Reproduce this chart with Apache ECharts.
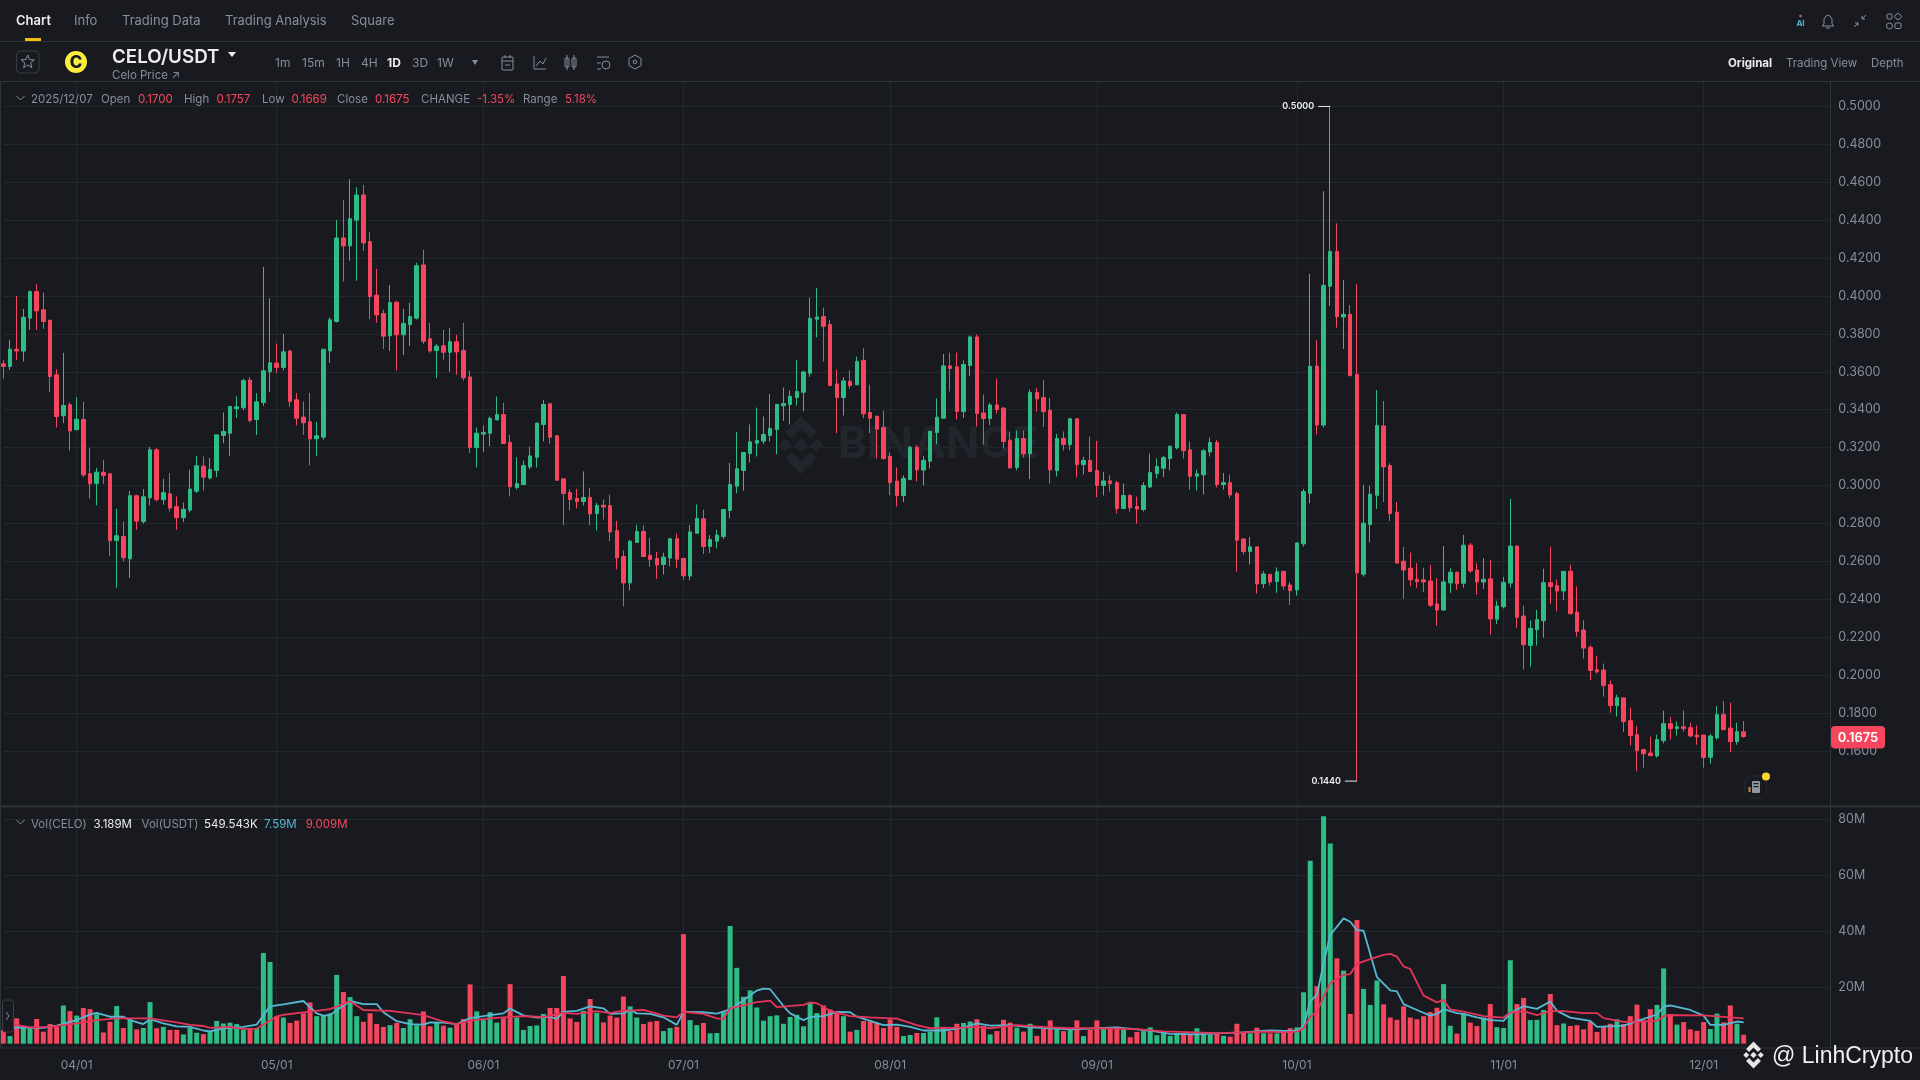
<!DOCTYPE html>
<html>
<head>
<meta charset="utf-8">
<title>CELO/USDT</title>
<style>html,body{margin:0;padding:0;background:#181a20}#chart{width:1920px;height:1080px}</style>
<script src="https://cdn.jsdelivr.net/npm/echarts@6/dist/echarts.min.js"></script>
</head>
<body>
<div id="chart"></div>
<script>
const opens = [
.3642,.3628,.3719,.3709,.3883,.4023,.3927,.3872,.3584,.3368,
.3426,.3294,.3348,.3062,.3011,.3069,.3062,.2710,.2731,.2613,
.2946,.2810,.2935,.3188,.2925,.2956,.2888,.2830,.2870,.2970,
.3102,.3039,.3079,.3264,.3276,.3405,.3410,.3556,.3348,.3438,
.3600,.3645,.3623,.3709,.3452,.3361,.3336,.3246,.3255,.3710,
.3865,.4306,.4264,.4400,.4533,.4287,.4004,.3907,.3790,.3967,
.3795,.3848,.3883,.4164,.3774,.3712,.3737,.3703,.3758,.3712,
.3573,.3201,.3271,.3276,.3346,.3374,.3228,.2989,.3005,.3098,
.3149,.3322,.3431,.3262,.3035,.2963,.2931,.2915,.2937,.2852,
.2896,.2894,.2761,.2625,.2486,.2699,.2757,.2632,.2615,.2583,
.2617,.2719,.2615,.2522,.2748,.2824,.2678,.2706,.2731,.2868,
.2996,.3079,.3169,.3223,.3234,.3264,.3295,.3420,.3427,.3464,
.3492,.3592,.3877,.3891,.3849,.3536,.3464,.3550,.3531,.3659,
.3385,.3365,.3306,.3153,.3023,.2947,.3031,.3202,.3081,.3128,
.3279,.3355,.3631,.3626,.3390,.3633,.3784,.3383,.3353,.3425,
.3408,.3239,.3095,.3248,.3167,.3491,.3464,.3397,.3079,.3248,
.3216,.3352,.3110,.3132,.3079,.3000,.3024,.3015,.2878,.2947,
.2889,.2873,.2992,.3063,.3091,.3142,.3198,.3374,.3188,.3049,
.3056,.3177,.3227,.3005,.3015,.2957,.2718,.2651,.2676,.2482,
.2531,.2493,.2547,.2475,.2449,.2692,.2959,.3630,.3319,.4051,
.4235,.3889,.3903,.3586,.2532,.2794,.2948,.3314,.3105,.2859,
.2600,.2563,.2505,.2502,.2496,.2375,.2343,.2486,.2542,.2484,
.2685,.2554,.2491,.2507,.2294,.2360,.2485,.2680,.2311,.2156,
.2239,.2286,.2487,.2471,.2443,.2548,.2332,.2237,.2146,.2028,
.2026,.1949,.1838,.1879,.1759,.1685,.1606,.1588,.1573,.1653,
.1743,.1717,.1727,.1722,.1683,.1683,.1566,.1668,.1791,.1720,
.1648,.1700];
const closes = [
.3628,.3719,.3710,.3888,.4023,.3921,.3865,.3575,.3364,.3422,
.3288,.3350,.3056,.3009,.3070,.3053,.2708,.2735,.2619,.2946,
.2812,.2940,.3188,.2925,.2962,.2881,.2830,.2875,.2981,.3104,
.3044,.3085,.3267,.3285,.3417,.3415,.3554,.3343,.3441,.3605,
.3647,.3623,.3705,.3443,.3355,.3331,.3246,.3262,.3719,.3874,
.4306,.4264,.4407,.4533,.4280,.3997,.3900,.3788,.3965,.3795,
.3855,.3891,.4160,.3761,.3710,.3735,.3703,.3758,.3705,.3568,
.3201,.3276,.3279,.3355,.3374,.3221,.2993,.3010,.3105,.3156,
.3329,.3427,.3255,.3028,.2958,.2926,.2915,.2937,.2850,.2894,
.2886,.2755,.2618,.2486,.2706,.2757,.2625,.2610,.2580,.2622,
.2719,.2611,.2523,.2755,.2826,.2678,.2715,.2738,.2873,.3005,
.3088,.3174,.3230,.3237,.3269,.3300,.3427,.3432,.3471,.3496,
.3599,.3881,.3889,.3840,.3527,.3464,.3552,.3527,.3654,.3378,
.3355,.3297,.3142,.3016,.2947,.3037,.3202,.3082,.3133,.3286,
.3360,.3631,.3617,.3390,.3638,.3784,.3380,.3353,.3425,.3401,
.3232,.3093,.3248,.3167,.3491,.3457,.3390,.3082,.3248,.3216,
.3352,.3110,.3132,.3073,.3000,.3024,.3010,.2878,.2947,.2882,
.2876,.3000,.3068,.3100,.3147,.3207,.3374,.3183,.3049,.3061,
.3183,.3227,.3005,.3015,.2950,.2711,.2651,.2676,.2480,.2533,
.2491,.2545,.2470,.2445,.2697,.2968,.3629,.3319,.4056,.4235,
.3891,.3903,.3579,.2539,.2801,.2954,.3317,.3098,.2852,.2591,
.2554,.2502,.2493,.2491,.2368,.2343,.2491,.2542,.2481,.2685,
.2549,.2491,.2505,.2296,.2364,.2489,.2680,.2304,.2160,.2246,
.2292,.2487,.2467,.2443,.2547,.2323,.2230,.2142,.2024,.2017,
.1944,.1838,.1880,.1754,.1680,.1601,.1585,.1574,.1659,.1743,
.1717,.1727,.1717,.1678,.1673,.1564,.1678,.1791,.1711,.1648,
.1701,.1675];
const highs = [
.3663,.3768,.4000,.3932,.4029,.4062,.4018,.3872,.3614,.3700,
.3438,.3466,.3441,.3199,.3093,.3136,.3062,.2877,.2810,.2972,
.2951,.2981,.3204,.3197,.3035,.3065,.2942,.2910,.3083,.3157,
.3153,.3144,.3267,.3385,.3417,.3471,.3563,.3572,.3487,.4153,
.3988,.3749,.3800,.3716,.3487,.3443,.3489,.3336,.3719,.3886,
.4401,.4505,.4616,.4574,.4586,.4336,.4143,.3927,.4058,.3974,
.3932,.3964,.4175,.4243,.3858,.3747,.3821,.3830,.3795,.3858,
.3605,.3306,.3316,.3364,.3469,.3436,.3267,.3149,.3132,.3205,
.3330,.3452,.3436,.3262,.3035,.2979,.2982,.3074,.2988,.2908,
.2926,.2951,.2813,.2657,.2713,.2792,.2789,.2724,.2650,.2645,
.2722,.2747,.2615,.2792,.2900,.2873,.2738,.2766,.2873,.3119,
.3283,.3177,.3322,.3411,.3364,.3483,.3431,.3517,.3501,.3661,
.3606,.3991,.4042,.3939,.3874,.3610,.3571,.3608,.3680,.3724,
.3532,.3369,.3394,.3174,.3095,.3053,.3209,.3213,.3156,.3286,
.3459,.3694,.3701,.3701,.3660,.3792,.3797,.3480,.3436,.3564,
.3415,.3285,.3290,.3290,.3506,.3515,.3557,.3462,.3272,.3285,
.3355,.3355,.3151,.3258,.3235,.3072,.3054,.3024,.3010,.2954,
.2941,.3017,.3168,.3142,.3156,.3211,.3385,.3374,.3232,.3084,
.3193,.3253,.3241,.3066,.3058,.2966,.2718,.2728,.2676,.2549,
.2531,.2567,.2547,.2491,.2697,.2982,.4116,.3767,.4553,.5000,
.4383,.4084,.3952,.4063,.3003,.2998,.3504,.3446,.3117,.2913,
.2676,.2646,.2590,.2565,.2581,.2512,.2681,.2563,.2546,.2739,
.2697,.2590,.2616,.2606,.2391,.2517,.2930,.2684,.2365,.2288,
.2344,.2561,.2677,.2504,.2547,.2582,.2467,.2288,.2156,.2102,
.2060,.1970,.1896,.1879,.1828,.1731,.1611,.1675,.1685,.1812,
.1778,.1754,.1813,.1748,.1733,.1683,.1689,.1835,.1863,.1854,
.1748,.1757];
const lows = [
.3563,.3610,.3663,.3654,.3821,.3821,.3826,.3492,.3306,.3329,
.3183,.3294,.3044,.2930,.2895,.3009,.2629,.2460,.2599,.2511,
.2766,.2798,.2895,.2916,.2898,.2863,.2766,.2807,.2858,.2960,
.2972,.3032,.3044,.3223,.3157,.3355,.3397,.3332,.3267,.3420,
.3492,.3594,.3607,.3415,.3317,.3267,.3106,.3157,.3241,.3647,
.3860,.4076,.4185,.4080,.4238,.3877,.3858,.3721,.3710,.3607,
.3688,.3735,.3876,.3747,.3700,.3566,.3663,.3600,.3584,.3552,
.3172,.3095,.3177,.3207,.3344,.3220,.2942,.2979,.3005,.3086,
.3095,.3232,.3221,.3023,.2791,.2868,.2879,.2894,.2791,.2762,
.2820,.2706,.2557,.2362,.2446,.2699,.2622,.2571,.2506,.2530,
.2573,.2564,.2502,.2499,.2748,.2638,.2643,.2668,.2717,.2826,
.2959,.2973,.3121,.3153,.3218,.3232,.3165,.3341,.3322,.3422,
.3392,.3573,.3782,.3654,.3527,.3276,.3369,.3511,.3531,.3355,
.3276,.3142,.3135,.2949,.2889,.2912,.3031,.3021,.3000,.3089,
.3218,.3355,.3496,.3348,.3357,.3577,.3311,.3216,.3318,.3380,
.3195,.3088,.3080,.3147,.3033,.3390,.3309,.3010,.3047,.3184,
.3186,.3042,.3058,.3073,.2938,.2947,.2968,.2852,.2878,.2862,
.2799,.2862,.2987,.3036,.3044,.3079,.3190,.3142,.2978,.2973,
.2952,.3153,.2989,.2978,.2934,.2545,.2635,.2582,.2429,.2459,
.2472,.2433,.2450,.2369,.2419,.2677,.2906,.3268,.3307,.3947,
.3833,.3720,.3579,.1440,.2519,.2699,.2876,.2913,.2813,.2586,
.2402,.2470,.2460,.2438,.2359,.2259,.2338,.2433,.2449,.2460,
.2540,.2423,.2454,.2211,.2269,.2351,.2462,.2249,.2028,.2044,
.2155,.2197,.2376,.2336,.2394,.2323,.2202,.2086,.1972,.2007,
.1886,.1801,.1780,.1699,.1627,.1492,.1511,.1573,.1564,.1639,
.1659,.1680,.1701,.1673,.1632,.1511,.1532,.1659,.1711,.1594,
.1632,.1669];
const volumes = [
4.9,2.7,9.0,6.0,5.6,8.8,4.3,7.0,6.0,13.6,
11.6,10.0,12.7,12.3,10.5,4.0,7.8,13.4,5.6,8.7,
5.1,5.6,14.8,5.5,6.0,4.9,4.9,3.3,5.6,3.9,
3.4,4.6,8.1,7.2,7.5,7.0,5.1,5.5,5.6,32.3,
29.1,9.8,9.3,7.4,8.2,10.8,14.7,9.8,10.2,10.8,
24.5,18.4,16.6,9.8,7.8,10.8,7.0,6.0,6.6,7.4,
5.6,8.7,6.6,11.5,6.2,7.7,6.4,5.7,7.0,8.8,
21.1,11.5,8.4,11.2,7.5,9.1,21.2,9.3,4.9,6.3,
6.5,10.6,12.7,12.7,24.1,9.0,7.7,11.7,15.9,11.0,
7.6,10.0,9.3,16.8,13.3,9.3,7.0,7.8,8.1,4.5,
5.6,6.0,39.0,8.4,6.6,7.4,3.7,3.8,11.2,41.9,
27.0,16.7,19.0,12.9,8.2,9.8,10.1,7.1,9.5,10.3,
6.2,14.7,10.9,13.6,12.2,11.2,9.8,4.3,4.9,8.1,
7.9,7.4,5.6,8.7,6.0,2.7,3.1,3.8,3.8,4.3,
9.4,6.0,4.5,7.1,7.4,7.9,8.7,6.3,3.3,4.5,
8.5,7.5,5.7,4.3,7.1,2.8,5.3,8.3,5.3,4.5,
5.3,8.3,2.7,4.9,8.3,5.3,5.3,6.0,5.1,2.3,
4.2,4.5,5.8,3.0,4.2,2.8,3.8,3.7,3.3,5.5,
3.7,3.3,3.7,2.8,2.5,7.1,4.3,3.7,5.7,3.7,
3.7,3.7,4.3,5.5,5.8,18.3,65.1,20.5,81.0,71.3,
30.4,26.0,10.6,44.0,19.5,13.8,22.5,14.0,9.3,8.5,
13.3,9.3,8.7,9.8,11.3,12.8,21.2,6.4,3.6,10.8,
7.5,6.3,9.3,14.1,5.9,5.6,29.7,14.1,16.3,8.4,
8.5,12.0,17.7,6.6,7.2,6.3,6.6,5.1,7.8,4.2,
6.0,7.1,8.7,7.0,9.8,13.9,8.4,12.3,13.8,26.8,
10.6,6.8,7.7,5.1,4.6,7.7,5.2,10.7,7.6,13.6,
7.1,3.189];
const maCyanIdx = [0,2,6,8,11,13,14,16,18,19,21,22,24,26,28,30,31,33,36,38,40,42,45,47,48,49,52,54,56,57,59,61,63,64,66,68,70,72,75,76,78,80,82,83,84,86,88,90,91,93,94,95,
97,99,101,102,105,107,109,111,113,114,115,117,118,120,121,123,125,127,128,130,132,134,136,138,141,144,146,148,151,154,157,160,164,167,170,173,175,179,182,186,190,192,
194,195,196,197,198,199,201,202,203,204,206,208,209,210,212,214,215,216,218,219,221,223,225,226,228,230,232,233,235,238,239,243,245,248,249,250,253,255,256,258,260,261];
const maCyanVal = [5.4,5.8,5.6,6.4,8.4,10.4,11.0,9.6,9.6,8.4,7.0,8.7,7.2,6.2,6.0,4.7,4.4,5.5,6.0,6.8,13.3,14.0,15.2,10.8,10.0,10.2,15.2,14.1,14.1,11.2,8.0,7.0,6.8,7.6,7.5,7.0,9.1,9.8,10.8,12.5,10.1,9.3,9.6,8.8,11.3,11.7,13.3,12.6,10.6,10.8,12.0,10.8,
10.6,9.4,6.7,11.3,11.2,10.7,12.2,15.5,18.9,19.6,19.4,13.4,10.8,8.4,9.5,9.8,11.3,11.2,9.6,8.1,6.6,6.8,6.0,4.7,4.7,5.7,7.2,6.4,6.6,5.8,5.5,5.1,5.5,5.8,5.1,4.3,3.5,3.3,3.7,4.0,4.7,4.6,
4.6,6.2,15.1,17.4,28.6,38.7,44.6,43.4,40.4,40.2,23.7,19.0,18.6,14.1,12.0,10.0,10.6,12.3,10.9,10.6,9.4,8.4,8.1,10.8,13.4,12.4,15.0,11.7,9.3,8.1,6.0,6.4,8.0,10.4,13.2,13.6,12.0,10.0,6.7,6.7,7.9,7.59];
const maRedIdx = [0,2,4,7,11,14,17,22,26,28,30,31,34,36,38,41,42,46,49,52,54,58,61,63,66,68,70,73,75,78,81,84,86,89,91,93,95,
96,97,99,101,102,105,107,108,109,113,115,116,120,121,122,124,127,130,134,137,139,144,146,148,152,157,160,164,170,174,182,186,190,192,
194,195,196,197,198,199,201,202,203,204,205,207,208,209,210,211,213,215,216,217,219,222,225,226,228,230,232,234,237,239,240,243,245,248,249,250,255,261];
const maRedVal = [6.5,6.7,5.8,6.0,7.2,8.4,9.0,9.0,7.6,6.7,6.3,5.6,6.0,5.3,5.4,9.7,10.3,11.4,12.3,15.1,12.0,11.7,10.8,10.2,7.9,7.0,8.2,9.0,9.4,9.8,9.5,11.0,10.6,11.6,10.9,11.8,11.9,
12.0,11.4,10.0,9.4,11.3,10.6,9.0,8.8,12.6,14.8,15.3,13.0,13.8,14.7,14.4,11.7,9.8,9.4,8.9,6.6,5.5,5.7,6.0,5.5,6.6,5.8,5.5,5.5,5.2,4.4,3.8,4.0,4.3,4.0,
4.3,5.5,9.6,11.4,16.7,21.5,24.5,24.8,28.4,29.3,30.1,31.6,32.0,31.0,27.5,26.6,17.1,14.7,15.6,12.2,11.4,9.8,9.3,11.1,11.6,10.2,11.6,11.6,10.9,10.9,9.1,7.8,7.8,8.2,9.8,10.2,10.1,9.009];
const priceTicks = [0.16,0.18,0.20,0.22,0.24,0.26,0.28,0.30,0.32,0.34,0.36,0.38,0.40,0.42,0.44,0.46,0.48,0.50];
const volumeTicks = [20,40,60,80];
const dateTicks = ['04/01','05/01','06/01','07/01','08/01','09/01','10/01','11/01','12/01'];
const monthLengths = {3:31,4:30,5:31,6:30,7:31,8:31,9:30,10:31,11:30,12:31};
const categories = [];
(function(){ let m=3,d=21; for(let i=0;i<275;i++){ categories.push(String(m).padStart(2,'0')+'/'+String(d).padStart(2,'0')); d++; if(d>monthLengths[m]){d=1;m++;} } })();

const UP='#2ebd85', DOWN='#f6465d', GREY='#848e9c', GRID='#23282d', LINE='#2f343b', BG='#181a20', FONT='Inter';
const isTick = (i,v)=>dateTicks.includes(v);

// ---- page chrome ----
const g=[];
const txt=(x,y,s,fill,size,weight,align)=>g.push({type:'text',z:100,silent:true,style:{x,y,text:s,fill,font:`${weight||400} ${size}px ${FONT}`,textAlign:align||'left',textVerticalAlign:'middle'}});
const ln=(x1,y1,x2,y2,c,w)=>g.push({type:'line',z:100,silent:true,shape:{x1,y1,x2,y2},style:{stroke:c||GREY,lineWidth:w||1}});
const box=(x,y,w,h,r,stroke,fill)=>g.push({type:'rect',z:100,silent:true,shape:{x,y,width:w,height:h,r:r||0},style:{stroke:stroke||null,fill:fill||null,lineWidth:1}});
const ring=(cx,cy,r,stroke,fill)=>g.push({type:'circle',z:100,silent:true,shape:{cx,cy,r},style:{stroke:stroke||null,fill:fill||null,lineWidth:1}});
const poly=(pts,fill,stroke,z)=>g.push({type:'polygon',z:z||100,silent:true,shape:{points:pts},style:{fill:fill||null,stroke:stroke||null,lineWidth:1}});
const logo=(cx,cy,s,c,z)=>{
  const P=a=>a.map(p=>[cx+p[0]*s,cy+p[1]*s]);
  poly(P([[0,-.24],[.24,0],[0,.24],[-.24,0]]),c,null,z);
  poly(P([[-.76,0],[-.54,-.22],[-.32,0],[-.54,.22]]),c,null,z);
  poly(P([[.76,0],[.54,-.22],[.32,0],[.54,.22]]),c,null,z);
  poly(P([[0,-1],[.55,-.45],[.33,-.23],[0,-.56],[-.33,-.23],[-.55,-.45]]),c,null,z);
  poly(P([[0,1],[.55,.45],[.33,.23],[0,.56],[-.33,.23],[-.55,.45]]),c,null,z);
};
// panel lines
ln(0,41.5,1920,41.5,LINE);ln(0,81.5,1920,81.5,LINE);ln(0,806.5,1920,806.5,LINE,2);ln(0,1048,1920,1048,LINE);ln(0.5,82,0.5,1048,LINE);
// tabs
txt(16,21.5,'Chart','#eaecef',13,600);box(25,38,16,3,0,null,'#f0b90b');
txt(74,21.5,'Info',GREY,13);txt(122,21.5,'Trading Data',GREY,13);txt(225,21.5,'Trading Analysis',GREY,13);txt(351,21.5,'Square',GREY,13);
// top right icons
ring(1800.5,16,1.3,null,'#c65a8a');txt(1800.5,23.5,'AI','#4fb6cf',8,700,'center');
poly([[1822,26],[1824,24],[1824,19],[1826,16],[1828,15],[1830,16],[1832,19],[1832,24],[1834,26]],null,GREY);ln(1826,28,1830,28);
ln(1854,27,1858,23);ln(1858,23,1858,26);ln(1858,23,1855,23);ln(1866,15,1862,19);ln(1862,19,1862,16);ln(1862,19,1865,19);
box(1887,14,5,5,1,GREY);poly([[1898,13],[1902,16.5],[1898,20],[1894,16.5]],null,GREY);ring(1889.5,26,3,GREY);box(1895,23,6,5.5,1,GREY);
// symbol row
box(16.5,51,22.5,22,4,'#363c44');
(function(){const p=[];for(let k=0;k<10;k++){const r=k%2?3:7,a=-Math.PI/2+k*Math.PI/5;p.push([27.7+r*Math.cos(a),62+r*Math.sin(a)]);}poly(p,null,GREY);})();
ring(76,62,11,null,'#fcee3f');txt(76,62.5,'C','#181a20',17,800,'center');
txt(112,57,'CELO/USDT','#eaecef',18.8,600);poly([[228,52],[236,52],[232,57]],'#eaecef');
txt(112,75.5,'Celo Price ↗',GREY,11.5);
[['1m',275],['15m',302],['1H',336],['4H',361],['3D',412],['1W',437]].forEach(a=>txt(a[1],63.5,a[0],GREY,12));
txt(387,63.5,'1D','#eaecef',12,700);poly([[472,60],[478,60],[475,65]],GREY);
box(502,57,11,13,1,GREY);ln(502,61,513,61);ln(505,55,505,58);ln(510,55,510,58);ln(505,65,510,65);
ln(534,56,534,69);ln(534,69,546,69);ln(536,66,540,61);ln(540,61,543,64);ln(543,64,546,58);
box(565,58,4,9,1,GREY);ln(567,55,567,70);box(572,58,4,9,1,GREY);ln(574,55,574,70);
ln(597,57,609,57);ln(597,63,601,63);ln(597,69,601,69);ring(606,65,4,GREY);
poly([[635,55],[641,58.5],[641,65.5],[635,69],[629,65.5],[629,58.5]],null,GREY);ring(635,62,1.8,GREY);
// right row
txt(1728,63.5,'Original','#eaecef',11.5,700);txt(1786,63.5,'Trading View',GREY,11.5);txt(1871,63.5,'Depth',GREY,11.5);
// OHLC row
const chev=(x,y)=>{ln(x-4,y-2,x,y+2);ln(x,y+2,x+4,y-2);};
chev(20.5,98);
[['2025/12/07',31,GREY],['Open',101,GREY],['0.1700',138,DOWN],['High',184,GREY],['0.1757',216.5,DOWN],['Low',262,GREY],['0.1669',291.5,DOWN],['Close',337,GREY],['0.1675',375,DOWN],['CHANGE',421,GREY],['-1.35%',477,DOWN],['Range',523,GREY],['5.18%',565,DOWN]].forEach(a=>txt(a[1],100,a[0],a[2],11.5));
// Volume row
chev(20.5,822);
[['Vol(CELO)',31,GREY],['3.189M',93.5,'#eaecef'],['Vol(USDT)',141.6,GREY],['549.543K',204,'#eaecef'],['7.59M',264,'#56b9d3'],['9.009M',305.7,DOWN]].forEach(a=>txt(a[1],824.5,a[0],a[2],11.5));
// left handle
box(2.5,1000,11,32,3,'#3a3f47',BG);ln(6,1012,9,1016);ln(9,1016,6,1020);
// last price tag
box(1831,726,54,22.5,4,null,DOWN);txt(1858,738.5,'0.1675','#ffffff',13,600,'center');
// news icon
box(1745,776,21.5,22,6,'#262a30',BG);box(1752,781,8,12,1,null,'#8f959e');box(1753.5,783,5,1.2,0,null,BG);box(1753.5,786,5,1.2,0,null,BG);box(1748.5,787,2,5,0,null,'#d98c2b');
ring(1766,776.5,4,null,'#fcd535');
// watermarks
logo(801,445,29,'#22252b',1);
g.push({type:'text',z:1,silent:true,style:{x:838,y:445,text:'BINANCE',fill:'#22252b',font:'700 44px '+FONT,textVerticalAlign:'middle',textAlign:'left'}});
logo(1753.5,1055,13.5,'#e6e6e6',110);
g.push({type:'text',z:110,silent:true,style:{x:1772,y:1057,text:'@ LinhCrypto',fill:'#f0f0f0',font:'400 23px "Liberation Sans"',textVerticalAlign:'middle',textAlign:'left'}});

// ---- chart ----
const chart=echarts.init(document.getElementById('chart'),null,{renderer:'canvas'});
const candleData=opens.map((o,i)=>[o,closes[i],lows[i],highs[i]]);
const barData=volumes.map((v,i)=>({value:v,itemStyle:{color:closes[i]>=opens[i]?UP:DOWN}}));
const pairs=(idx,val)=>idx.map((x,i)=>[x,val[i]]);
const extreme=(i,v,txtv)=>({coord:[categories[i],v],value:txtv,symbol:'rect',symbolSize:[12,1],symbolOffset:[-6,0],itemStyle:{color:'#eaecef'},label:{show:true,position:'left',distance:4,formatter:txtv,color:'#f0f1f3',fontFamily:FONT,fontSize:9,fontWeight:600}});
const axisLbl={color:GREY,fontFamily:FONT,fontSize:12.5};
chart.setOption({
  animation:false,backgroundColor:BG,graphic:{elements:g},tooltip:{show:false},
  grid:[{left:3.33,width:1827,top:82,height:724.5},{left:3.33,width:1827,top:808,height:240}],
  xAxis:[
    {type:'category',gridIndex:0,data:categories,boundaryGap:false,axisLine:{show:false},axisTick:{show:false},axisLabel:{show:false},splitLine:{show:true,interval:isTick,lineStyle:{color:GRID,width:1}}},
    {type:'category',gridIndex:1,data:categories,boundaryGap:false,axisLine:{show:false},axisTick:{show:false},axisLabel:{show:true,interval:isTick,margin:11,hideOverlap:false,...axisLbl,fontSize:12},splitLine:{show:true,interval:isTick,lineStyle:{color:GRID,width:1}}}
  ],
  yAxis:[
    {type:'value',gridIndex:0,position:'right',min:0.1306,max:0.5129,scale:true,axisLine:{show:true,lineStyle:{color:LINE}},axisTick:{show:false,customValues:priceTicks},axisLabel:{show:true,customValues:priceTicks,margin:8,formatter:v=>v.toFixed(4),...axisLbl},splitLine:{show:true,lineStyle:{color:GRID,width:1}}},
    {type:'value',gridIndex:1,position:'right',min:-1.53,max:83.9,axisLine:{show:true,lineStyle:{color:LINE}},axisTick:{show:false,customValues:volumeTicks},axisLabel:{show:true,customValues:volumeTicks,margin:8,formatter:v=>v+'M',...axisLbl},splitLine:{show:true,lineStyle:{color:GRID,width:1}}}
  ],
  series:[
    {type:'candlestick',name:'CELO/USDT',xAxisIndex:0,yAxisIndex:0,data:candleData,barWidth:4,clip:false,
      itemStyle:{color:UP,color0:DOWN,borderColor:UP,borderColor0:DOWN,borderWidth:1},
      markPoint:{silent:true,animation:false,data:[extreme(199,0.5,'0.5000'),extreme(203,0.144,'0.1440')]}},
    {type:'bar',name:'Vol',xAxisIndex:1,yAxisIndex:1,data:barData,barWidth:5,clip:false},
    {type:'line',name:'MA7',xAxisIndex:1,yAxisIndex:1,data:pairs(maCyanIdx,maCyanVal),showSymbol:false,symbol:'none',lineStyle:{color:'#56b9d3',width:1.8},z:5},
    {type:'line',name:'MA25',xAxisIndex:1,yAxisIndex:1,data:pairs(maRedIdx,maRedVal),showSymbol:false,symbol:'none',lineStyle:{color:'#e5345a',width:1.8},z:6}
  ]
});
</script>
</body>
</html>
